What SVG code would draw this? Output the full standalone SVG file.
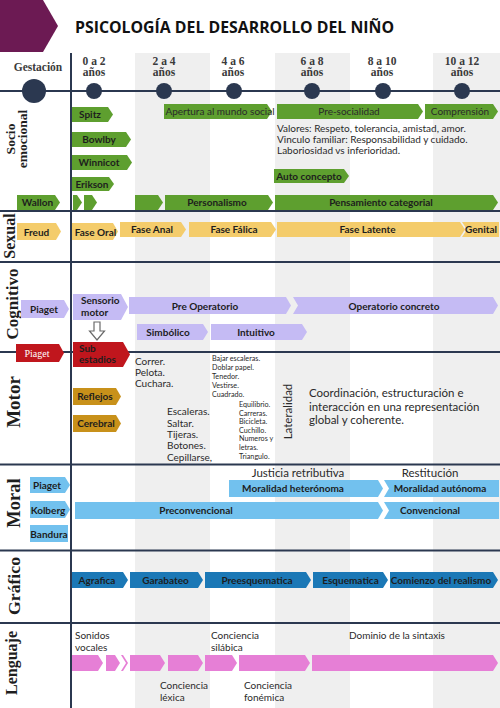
<svg xmlns="http://www.w3.org/2000/svg" width="500" height="708" viewBox="0 0 500 708">
<style>
.band{fill:#efefef}
.ln{stroke:#2b3850;stroke-width:2;fill:none}
.lbl{font-family:Lato,"Open Sans",sans-serif;font-weight:700;font-size:10px;fill:#1d1d1d;text-anchor:middle}
.lbll{font-family:Lato,"Open Sans",sans-serif;font-weight:700;font-size:10px;fill:#1d1d1d}
.reg{font-family:Lato,"Open Sans",sans-serif;font-size:10px;fill:#2a2a2a;text-anchor:middle}
.txt{font-family:Lato,"Open Sans",sans-serif;font-size:10px;fill:#2a2a2a}
.sm{font-family:Lato,"Open Sans",sans-serif;font-size:7.2px;fill:#2a2a2a}
.big{font-family:Lato,"Open Sans",sans-serif;font-size:11.5px;fill:#2a2a2a}
.hdr{font-family:"Liberation Serif",serif;font-weight:700;font-size:11.5px;fill:#3b3b3b;text-anchor:middle}
.sec{font-family:"Liberation Serif",serif;font-weight:700;fill:#1e1e1e;text-anchor:middle}
.g{fill:#5e9f2f}.y{fill:#f4cc6b}.v{fill:#c5bbf4}.r{fill:#c0161d}.o{fill:#c8911a}.lb{fill:#72c1ee}.b{fill:#1b78b6}.p{fill:#e67fd6}
.dot{fill:#2b3850}
</style>
<rect class="band" x="135" y="53" width="75" height="655"/>
<rect class="band" x="275" y="53" width="75" height="655"/>
<rect class="band" x="433" y="53" width="67" height="655"/>
<g id="header">
<path d="M0 0H43L58 26L43 52H0Z" fill="#6c1a53"/>
<text x="75" y="33" font-family="'Open Sans',Lato,sans-serif" font-weight="700" font-size="16" fill="#111" textLength="319" lengthAdjust="spacingAndGlyphs">PSICOLOGÍA DEL DESARROLLO DEL NIÑO</text>
<text class="hdr" x="38" y="71">Gestación</text>
<text class="hdr" x="94" y="65">0 a 2</text><text class="hdr" x="94" y="76">años</text>
<text class="hdr" x="164" y="65">2 a 4</text><text class="hdr" x="164" y="76">años</text>
<text class="hdr" x="233" y="65">4 a 6</text><text class="hdr" x="233" y="76">años</text>
<text class="hdr" x="312" y="65">6 a 8</text><text class="hdr" x="312" y="76">años</text>
<text class="hdr" x="382" y="65">8 a 10</text><text class="hdr" x="382" y="76">años</text>
<text class="hdr" x="462" y="65">10 a 12</text><text class="hdr" x="462" y="76">años</text>
</g>
<g id="lines">
<line class="ln" x1="0" y1="91" x2="500" y2="91"/>
<line class="ln" x1="71" y1="53" x2="71" y2="708"/>
<line class="ln" x1="0" y1="211" x2="500" y2="211"/>
<line class="ln" x1="0" y1="262" x2="500" y2="262"/>
<line class="ln" x1="0" y1="352" x2="500" y2="352"/>
<line class="ln" x1="0" y1="464.5" x2="500" y2="464.5"/>
<line class="ln" x1="0" y1="550.5" x2="500" y2="550.5"/>
<line class="ln" x1="0" y1="623" x2="500" y2="623"/>
</g>
<g id="timeline-dots">
<circle class="dot" cx="34" cy="91" r="12"/>
<circle class="dot" cx="94" cy="91" r="8"/>
<circle class="dot" cx="164" cy="91" r="8"/>
<circle class="dot" cx="234" cy="91" r="8"/>
<circle class="dot" cx="312" cy="91" r="8"/>
<circle class="dot" cx="383" cy="91" r="8"/>
<circle class="dot" cx="462" cy="91" r="8"/>
</g>
<g id="section-labels">
<text class="sec" font-size="13.5" transform="translate(15 139) rotate(-90)">Socio</text>
<text class="sec" font-size="13.5" transform="translate(27 139) rotate(-90)">emocional</text>
<text class="sec" font-size="16" transform="translate(15 236) rotate(-90)">Sexual</text>
<text class="sec" font-size="17" transform="translate(18 304) rotate(-90)">Cognitivo</text>
<text class="sec" font-size="19" transform="translate(20 402) rotate(-90)">Motor</text>
<text class="sec" font-size="18.5" transform="translate(20 503) rotate(-90)">Moral</text>
<text class="sec" font-size="17.7" transform="translate(20 586) rotate(-90)">Gráfico</text>
<text class="sec" font-size="16" transform="translate(17 663) rotate(-90)">Lenguaje</text>
</g>
<g id="socioemocional">
<g id="spitz"><path class="g" d="M72 107H108L113 114.5L108 122H72Z"/><text class="lbl" x="90" y="118">Spitz</text></g>
<g id="bowlby"><path class="g" d="M72 132H126L131 139.5L126 147H72Z"/><text class="lbl" x="99" y="143">Bowlby</text></g>
<g id="winnicot"><path class="g" d="M72 155H127L132 162.5L127 170H72Z"/><text class="lbl" x="99" y="166">Winnicot</text></g>
<g id="erikson"><path class="g" d="M72 177H109L114 184L109 191H72Z"/><text class="lbl" x="92" y="188">Erikson</text></g>
<g id="wallon"><path class="g" d="M17 195H55L60 202.5L55 210H17Z"/><text class="lbl" x="37.5" y="206">Wallon</text></g>
<g id="wallon-steps"><path class="g" d="M73 195H77L82 202.5L77 210H73Z"/><path class="g" d="M84 195H92L97 202.5L92 210H84Z"/><path class="g" d="M135 195H158L163 202.5L158 210H135Z"/></g>
<g id="personalismo"><path class="g" d="M165 195H268L273 202.5L268 210H165Z"/><text class="lbl" x="217" y="206">Personalismo</text></g>
<g id="pensamiento"><path class="g" d="M275 195H493L498 202.5L493 210H275Z"/><text class="lbl" x="381" y="206">Pensamiento categorial</text></g>
<g id="apertura"><path class="g" d="M164 104H267L272 111.5L267 119H164Z"/><text class="reg" x="220" y="115">Apertura al mundo social</text></g>
<g id="presocialidad"><path class="g" d="M277 104H418L423 111.5L418 119H277Z"/><text class="reg" x="349" y="115">Pre-socialidad</text></g>
<g id="comprension"><path class="g" d="M425 104H493L498 111.5L493 119H425Z"/><text class="reg" x="460" y="115">Comprensión</text></g>
<g id="valores"><text class="txt" x="277" y="132">Valores: Respeto, tolerancia, amistad, amor.</text><text class="txt" x="277" y="143">Vinculo familiar: Responsabilidad y cuidado.</text><text class="txt" x="277" y="154">Laboriosidad vs inferioridad.</text></g>
<g id="autoconcepto"><path class="g" d="M274 169H344L349 176L344 183H274Z"/><text class="lbl" x="309" y="180">Auto concepto</text></g>
</g>
<g id="sexual">
<g id="freud"><path class="y" d="M17 223H56L61 231.5L56 240H17Z"/><text class="lbl" x="36.5" y="235.5">Freud</text></g>
<g id="oral"><path class="y" d="M72 223H113L118 231.5L113 240H72Z"/><text class="lbl" x="95.5" y="235.5">Fase Oral</text></g>
<g id="anal"><path class="y" d="M120 222H181L186 229.5L181 237H120Z"/><text class="lbl" x="152" y="233">Fase Anal</text></g>
<g id="falica"><path class="y" d="M189 222H271L276 229.5L271 237H189Z"/><text class="lbl" x="234" y="233">Fase Fálica</text></g>
<g id="latente"><path class="y" d="M277 222H460L465 229.5L460 237H277Z"/><text class="lbl" x="367.5" y="233">Fase Latente</text></g>
<g id="genital"><path class="y" d="M462 222H499V237H462L467 229.5Z"/><text class="lbl" x="481" y="233">Genital</text></g>
</g>
<g id="cognitivo">
<g id="piaget-cog"><path class="v" d="M21 300H64L69 309L64 318H21Z"/><text class="lbl" x="44" y="313">Piaget</text></g>
<g id="sensorio"><path class="v" d="M73 294H121L128 307L121 320H73Z"/><text class="lbll" x="81" y="304">Sensorio</text><text class="lbll" x="81" y="315.5">motor</text></g>
<g id="preoperatorio"><path class="v" d="M129 297H286L291 305.5L286 314H129Z"/><text class="lbl" x="205" y="309.5">Pre Operatorio</text></g>
<g id="opconcreto"><path class="v" d="M293 297H493L498 305.5L493 314H293L298 305.5Z"/><text class="lbl" x="394" y="309.5">Operatorio concreto</text></g>
<g id="simbolico"><path class="v" d="M137 324H203L208 332L203 340H137Z"/><text class="lbl" x="168" y="335.5">Simbólico</text></g>
<g id="intuitivo"><path class="v" d="M211 324H302L307 332L302 340H211Z"/><text class="lbl" x="256" y="335.5">Intuitivo</text></g>
<g id="down-arrow"><path d="M94 322H100V331H104.5L97 340L89.5 331H94Z" fill="#fff" stroke="#6a6a6a" stroke-width="1.2"/></g>
</g>
<g id="motor">
<g id="piaget-motor"><path class="r" d="M16 344H59L64 353L59 362H16Z"/><text x="37" y="357" font-family="'Liberation Serif',serif" font-size="10" fill="#fff" text-anchor="middle">Piaget</text></g>
<g id="subestadios"><path class="r" d="M73 342H123L130 354.5L123 367H73Z"/><text class="lbll" x="79" y="351.5" fill="#1a0a0a">Sub</text><text class="lbll" x="79" y="363">estadios</text></g>
<g id="reflejos"><path class="o" d="M73 388H116L121 396.5L116 405H73Z"/><text class="lbl" x="95" y="400">Reflejos</text></g>
<g id="cerebral"><path class="o" d="M73 415H116L121 423.5L116 432H73Z"/><text class="lbl" x="96" y="427">Cerebral</text></g>
<g id="motor-txt1"><text class="txt" x="135" y="365">Correr.</text><text class="txt" x="135" y="376">Pelota.</text><text class="txt" x="135" y="387">Cuchara.</text></g>
<g id="motor-txt2"><text class="txt" x="167" y="415">Escaleras.</text><text class="txt" x="167" y="426.5">Saltar.</text><text class="txt" x="167" y="438">Tijeras.</text><text class="txt" x="167" y="449">Botones.</text><text class="txt" x="167" y="460.5">Cepillarse,</text></g>
<g id="motor-txt3"><text class="sm" x="212" y="361">Bajar escaleras.</text><text class="sm" x="212" y="370">Doblar papel.</text><text class="sm" x="212" y="379">Tenedor.</text><text class="sm" x="212" y="388">Vestirse.</text><text class="sm" x="212" y="397">Cuadrado.</text></g>
<g id="motor-txt4"><text class="sm" x="239" y="407">Equilibrio.</text><text class="sm" x="239" y="415.6">Carreras.</text><text class="sm" x="239" y="424.2">Bicicleta.</text><text class="sm" x="239" y="432.8">Cuchillo.</text><text class="sm" x="239" y="441.4">Numeros y</text><text class="sm" x="239" y="450">letras.</text><text class="sm" x="239" y="458.6">Triangulo.</text></g>
<g id="lateralidad"><text class="big" font-size="12" text-anchor="middle" transform="translate(292 411.5) rotate(-90)">Lateralidad</text></g>
<g id="coordinacion"><text class="big" x="309" y="397">Coordinación, estructuración e</text><text class="big" x="309" y="410.5">interacción en una representación</text><text class="big" x="309" y="424">global y coherente.</text></g>
</g>
<g id="moral">
<g id="piaget-moral"><path class="lb" d="M30 477H65L70 485L65 493H30Z"/><text class="lbl" x="47" y="489">Piaget</text></g>
<g id="kolberg"><path class="lb" d="M30 501H65L70 509.5L65 518H30Z"/><text class="lbl" x="48" y="513.5">Kolberg</text></g>
<g id="bandura"><rect class="lb" x="30" y="525" width="38" height="17"/><text class="lbl" x="49" y="537.5">Bandura</text></g>
<text class="big" font-size="11" x="298" y="477" text-anchor="middle">Justicia retributiva</text>
<text class="big" font-size="11" x="430" y="477" text-anchor="middle">Restitución</text>
<g id="heteronoma"><path class="lb" d="M229 480H378L383 488.5L378 497H229Z"/><text class="lbl" x="293" y="492">Moralidad heterónoma</text></g>
<g id="autonoma"><path class="lb" d="M384 480H499V497H384L389 488.5Z"/><text class="lbl" x="440" y="492">Moralidad autónoma</text></g>
<g id="preconvencional"><path class="lb" d="M75 502H378L383 510.5L378 519H75Z"/><text class="lbl" x="196" y="514">Preconvencional</text></g>
<g id="convencional"><path class="lb" d="M384 502H499V519H384L389 510.5Z"/><text class="lbl" x="430" y="514">Convencional</text></g>
</g>
<g id="grafico">
<g id="agrafica"><path class="b" d="M72 572H123L128 580L123 588H72Z"/><text class="lbl" x="97" y="583.5">Agrafica</text></g>
<g id="garabateo"><path class="b" d="M130 572H198L203 580L198 588H130Z"/><text class="lbl" x="165.5" y="583.5">Garabateo</text></g>
<g id="preesquematica"><path class="b" d="M205 572H306L311 580L306 588H205Z"/><text class="lbl" x="257" y="583.5">Preesquematica</text></g>
<g id="esquematica"><path class="b" d="M313 572H383L388 580L383 588H313Z"/><text class="lbl" x="350.5" y="583.5">Esquematica</text></g>
<g id="realismo"><path class="b" d="M390 572H493L498 580L493 588H390Z"/><text class="lbl" x="441" y="583.5">Comienzo del realismo</text></g>
</g>
<g id="lenguaje">
<g id="lang-arrows">
<path class="p" d="M72 655H98L103 663L98 671H72Z"/>
<path class="p" d="M106 655H115L120 663L115 671H106Z"/>
<path class="p" d="M121 655H123L128 663L123 671H121L126 663Z"/>
<path class="p" d="M130 655H160L165 663L160 671H130Z"/>
<path class="p" d="M168 655H198L203 663L198 671H168Z"/>
<path class="p" d="M205 655H232L237 663L232 671H205Z"/>
<path class="p" d="M239 655H305L310 663L305 671H239Z"/>
<path class="p" d="M312 655H493L498 663L493 671H312Z"/>
</g>
<text class="txt" x="75" y="639">Sonidos</text><text class="txt" x="75" y="651">vocales</text>
<text class="txt" x="211" y="639">Conciencia</text><text class="txt" x="211" y="651">silábica</text>
<text class="txt" x="160" y="689">Conciencia</text><text class="txt" x="160" y="701">léxica</text>
<text class="txt" x="244" y="689">Conciencia</text><text class="txt" x="244" y="701">fonémica</text>
<text class="txt" x="349" y="639">Dominio de la sintaxis</text>
</g>
</svg>
